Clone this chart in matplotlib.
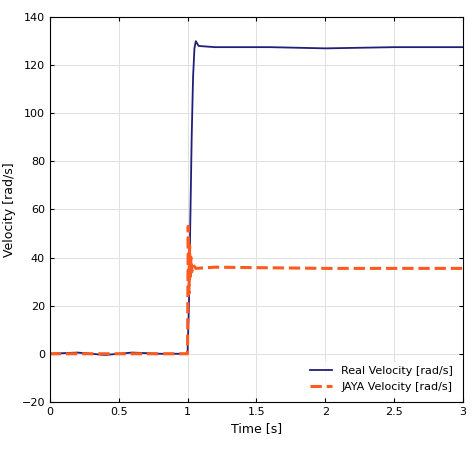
import matplotlib
matplotlib.use("Agg")
import matplotlib.pyplot as plt

# waypoints
real_t = [0, 0.2, 0.4, 0.6, 0.8, 0.99, 1.0, 1.01, 1.02, 1.03, 1.04, 1.05, 1.06, 1.08, 1.2, 1.6, 2.0, 2.5, 3.0]
real_v = [0, 0.5, -0.5, 0.5, 0, 0, 0, 20, 55, 90, 115, 127, 130, 128, 127.5, 127.5, 127, 127.5, 127.5]
jaya_t = [0, 0.2, 0.4, 0.6, 0.8, 0.99, 1.0, 1.005, 1.01, 1.015, 1.02, 1.025, 1.03, 1.04, 1.06, 1.2, 2.0, 3.0]
jaya_v = [0, 0, 0, 0, 0, 0, 0, 53, 25, 45, 32, 40, 34, 37, 35.5, 36, 35.5, 35.5]

fig = plt.figure(figsize=(4.74, 4.5), dpi=100)
ax = fig.add_axes([0.105, 0.107, 0.872, 0.855])
ax.plot(real_t, real_v, color="#1f1f7a", lw=1.3, label="Real Velocity [rad/s]")
ax.plot(jaya_t, jaya_v, color="#ff5a1f", lw=2.2, ls="--", label="JAYA Velocity [rad/s]")

ax.set_xlim(0, 3)
ax.set_ylim(-20, 140)
ax.set_xticks([0, 0.5, 1, 1.5, 2, 2.5, 3])
ax.set_xticklabels(["0", "0.5", "1", "1.5", "2", "2.5", "3"])
ax.set_yticks(range(-20, 141, 20))
ax.grid(True, color="#e0e0e0", lw=0.7)
ax.tick_params(labelsize=8, direction="in", length=3, top=True, right=True)
ax.set_xlabel("Time [s]", fontsize=9)
ax.set_ylabel("Velocity [rad/s]", fontsize=9)
ax.legend(loc="lower right", fontsize=8, frameon=True, fancybox=False, edgecolor="white")

fig.savefig("out.png", dpi=100)
